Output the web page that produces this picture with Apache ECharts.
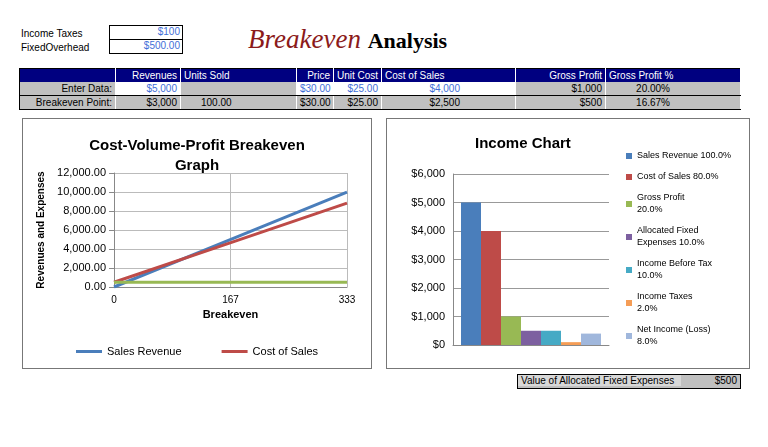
<!DOCTYPE html>
<html><head><meta charset="utf-8">
<script src="https://cdn.jsdelivr.net/npm/echarts@6/dist/echarts.min.js"></script>
<style>
body{margin:0;width:768px;height:447px;background:#fff;font-family:"Liberation Sans Narrow","Liberation Sans",Arial,sans-serif;position:relative;overflow:hidden}
.abs{position:absolute}
table{border-collapse:collapse;font-size:10px;table-layout:fixed}
td{padding:0 3px;height:13px;white-space:nowrap;overflow:hidden}
#grid td{border-right:1px solid #fff}
.hd td{background:#000080;color:#fff}
.gr td{background:#c0c0c0;color:#000;border-bottom:1px solid #000}
.gr td.wh{background:#fff;color:#3f6fd8}
.blue{color:#3f6fd8}
.box{border:1px solid #777;background:#fff}
</style></head><body>
<div class="abs" style="left:21px;top:27px;font-size:10px;line-height:14px">Income Taxes<br>FixedOverhead</div>
<div class="abs" style="left:109px;top:25px;width:72px;border:1px solid #000;font-size:10px;text-align:right" >
<div class="blue" style="border-bottom:1px solid #000;padding-right:2px;height:13px">$100</div>
<div class="blue" style="padding-right:2px;height:13px">$500.00</div></div>
<div class="abs" style="left:248px;top:24px;font-family:'Liberation Serif',serif;font-size:27px"><i style="color:#8b1a1a">Breakeven</i> <b style="font-size:22px">Analysis</b></div>
<table id="grid" class="abs" style="left:19px;top:68px;width:721px;border:1px solid #000">
<colgroup><col style="width:96px"><col style="width:65px"><col style="width:116px"><col style="width:37px"><col style="width:48px"><col style="width:134px"><col style="width:90px"><col style="width:135px"></colgroup>
<tr class="hd"><td></td><td style="text-align:right">Revenues</td><td>Units Sold</td><td style="text-align:right">Price</td><td>Unit Cost</td><td>Cost of Sales</td><td style="text-align:right">Gross Profit</td><td style="text-align:left">Gross Profit %</td></tr>
<tr class="gr"><td style="text-align:right">Enter Data:</td><td class="wh" style="text-align:right">$5,000</td><td></td><td class="wh" style="text-align:right">$30.00</td><td class="wh" style="text-align:right">$25.00</td><td class="wh" style="text-align:right;padding-right:55px">$4,000</td><td style="text-align:right">$1,000</td><td style="text-align:right;padding-right:70px">20.00%</td></tr>
<tr class="gr"><td style="text-align:right">Breakeven Point:</td><td style="text-align:right">$3,000</td><td style="padding-left:20px">100.00</td><td style="text-align:right">$30.00</td><td style="text-align:right">$25.00</td><td style="text-align:right;padding-right:55px">$2,500</td><td style="text-align:right">$500</td><td style="text-align:right;padding-right:70px">16.67%</td></tr>
</table>
<div id="c1" class="abs box" style="left:22px;top:118px;width:348px;height:249px"></div>
<div id="c2" class="abs box" style="left:386px;top:118px;width:362px;height:249px"></div>
<div class="abs" style="left:517px;top:374px;width:222px;height:13px;border:1px solid #000;background:#c0c0c0;font-size:10px">
<span style="display:inline-block;width:160px;background:#d8d8d8;padding-left:3px">Value of Allocated Fixed Expenses</span><span style="float:right;padding-right:3px">$500</span></div>
<script>
const unitsX = [0, 167, 333];
const salesRevenue = [0, 5010, 9990];
const costOfSales = [500, 4675, 8825];
const fixedCost = [500, 500, 500];
const incomeNames = ['Sales Revenue 100.0%', 'Cost of Sales 80.0%', 'Gross Profit\n20.0%', 'Allocated Fixed\nExpenses 10.0%', 'Income Before Tax\n10.0%', 'Income Taxes\n2.0%', 'Net Income (Loss)\n8.0%'];
const incomeValues = [5000, 4000, 1000, 500, 500, 100, 400];
const incomeColors = ['#4a7ebb', '#be4b48', '#98b954', '#7d60a0', '#46aac5', '#f59d56', '#a0b7dc'];

const f = 'Liberation Sans, Arial, sans-serif';
const c1 = echarts.init(document.getElementById('c1'));
c1.setOption({
  animation: false,
  title: {text: 'Cost-Volume-Profit Breakeven\nGraph', left: 'center', top: 12, textStyle: {fontSize: 15, fontWeight: 'bold', fontFamily: f, lineHeight: 20, color: '#000'}},
  grid: {left: 91, right: 24, top: 54, bottom: 81},
  xAxis: {type: 'value', min: 0, max: 333, interval: 166.5, name: 'Breakeven', nameLocation: 'middle', nameGap: 22,
    nameTextStyle: {fontWeight: 'bold', fontSize: 11, color: '#000', fontFamily: f},
    axisLabel: {fontSize: 10, color: '#000', formatter: v => Math.round(v)},
    axisLine: {lineStyle: {color: '#888'}}, splitLine: {lineStyle: {color: '#bbb'}}, axisTick: {show: false}},
  yAxis: {type: 'value', min: 0, max: 12000, interval: 2000, name: 'Revenues and Expenses', nameLocation: 'middle', nameGap: 68,
    nameTextStyle: {fontWeight: 'bold', fontSize: 10, color: '#000', fontFamily: f},
    axisLabel: {fontSize: 11, color: '#000', formatter: v => v.toLocaleString('en-US', {minimumFractionDigits: 2})},
    axisLine: {show: true, lineStyle: {color: '#888'}}, splitLine: {lineStyle: {color: '#bbb'}}},
  legend: {bottom: 6, left: 'center', itemWidth: 26, itemHeight: 3, itemGap: 40, icon: 'rect', textStyle: {fontSize: 11, fontFamily: f, color: '#000'},
    data: ['Sales Revenue', 'Cost of Sales']},
  series: [
    {name: 'Sales Revenue', type: 'line', symbol: 'none', lineStyle: {width: 3, color: '#4a7ebb'}, itemStyle: {color: '#4a7ebb'}, data: unitsX.map((x, i) => [x, salesRevenue[i]])},
    {name: 'Cost of Sales', type: 'line', symbol: 'none', lineStyle: {width: 3, color: '#be4b48'}, itemStyle: {color: '#be4b48'}, data: unitsX.map((x, i) => [x, costOfSales[i]])},
    {name: 'Fixed', type: 'line', symbol: 'none', lineStyle: {width: 3, color: '#98b954'}, data: unitsX.map((x, i) => [x, fixedCost[i]])}
  ]
});

const c2 = echarts.init(document.getElementById('c2'));
c2.setOption({
  animation: false,
  title: {text: 'Income Chart', left: 83, top: 12, textStyle: {fontSize: 15, fontWeight: 'bold', fontFamily: f, color: '#000'}},
  grid: {left: 66, right: 140, top: 55, bottom: 23},
  xAxis: {type: 'category', data: [''], axisTick: {show: false}, axisLine: {lineStyle: {color: '#888'}}},
  yAxis: {type: 'value', min: 0, max: 6000, interval: 1000, axisLabel: {fontSize: 11, color: '#000', formatter: v => '$' + v.toLocaleString('en-US')},
    axisLine: {show: true, lineStyle: {color: '#888'}}, splitLine: {lineStyle: {color: '#999'}}},
  legend: {orient: 'vertical', left: 234, top: 26, itemWidth: 6, itemHeight: 6, itemGap: 9, icon: 'rect',
    textStyle: {fontSize: 9, lineHeight: 12, fontFamily: f, color: '#000'}, data: incomeNames},
  series: incomeNames.map((n, i) => ({name: n, type: 'bar', barWidth: 20, barGap: 0, itemStyle: {color: incomeColors[i]}, data: [incomeValues[i]]}))
});
</script>
</body></html>
